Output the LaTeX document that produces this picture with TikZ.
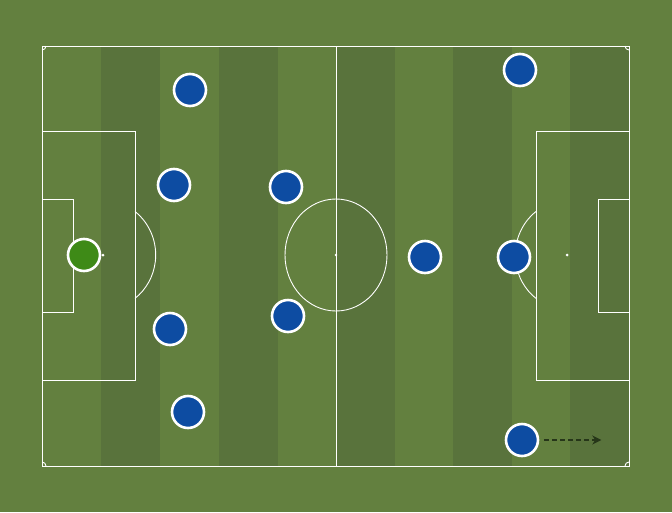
\documentclass[tikz,border=0pt]{standalone}
\usepackage{tikz}
\usetikzlibrary{positioning,shadows,arrows.meta}

\definecolor{grass}{HTML}{63803F}
\definecolor{grassdark}{HTML}{59733C}
\definecolor{teamblue}{HTML}{0D4CA2}
\definecolor{keepergreen}{HTML}{3E8A17}
\definecolor{runline}{HTML}{263619}

\tikzset{
	pitchline/.style={draw=white, line width=0.9pt},
	player/.style={circle, fill=teamblue, draw=white, line width=2.6pt, minimum size=32pt, inner sep=0pt,
		drop shadow={opacity=0.35, shadow xshift=0.6pt, shadow yshift=-1pt}},
	keeper/.style={player, fill=keepergreen},
	run/.style={draw=runline, line width=2.4pt, dash pattern=on 5pt off 3pt, -{Stealth[length=9pt,width=9pt]}},
}

\begin{document}
\begin{tikzpicture}[x=1pt, y=-1pt]
	\useasboundingbox (0,0) rectangle (672,512);
	\fill[grass] (0,0) rectangle (672,512);
	%% stripes
	\foreach \sx in {101,219,336,453,570}
		\fill[grassdark] (\sx,46) rectangle ({\sx+59},466);
	%% pitch
	\draw[pitchline] (42,46) rectangle (629,466);
	\draw[pitchline] (336,46) -- (336,466);
	\draw[pitchline] (336,255) ellipse (51 and 56);
	\fill[white] (336,255) circle (1.3);
	% left end
	\draw[pitchline] (42,131) rectangle (135,380);
	\draw[pitchline] (42,199) rectangle (73,312);
	\fill[white] (103,255) circle (1.5);
	\draw[pitchline] (135,211.5) arc[start angle=-52.6, end angle=52.6, x radius=52.7, y radius=54.7];
	% right end
	\draw[pitchline] (536,131) rectangle (629,380);
	\draw[pitchline] (598,199) rectangle (629,312);
	\fill[white] (567,255) circle (1.5);
	\draw[pitchline] (536,211.5) arc[start angle=232.6, end angle=127.4, x radius=52.7, y radius=54.7];
	% corners
	\draw[pitchline] (46,46) arc[start angle=0, end angle=90, radius=4];
	\draw[pitchline] (625,46) arc[start angle=180, end angle=90, radius=4];
	\draw[pitchline] (46,466) arc[start angle=0, end angle=-90, radius=4];
	\draw[pitchline] (625,466) arc[start angle=180, end angle=270, radius=4];
	%% players
	\node[keeper] (gk) at (84,255) {};
	\node[player] (lb) at (190,90) {};
	\node[player] (lcb) at (174,185) {};
	\node[player] (rcb) at (170,329) {};
	\node[player] (rb) at (188,412) {};
	\node[player] (lcm) at (286,187) {};
	\node[player] (rcm) at (288,316) {};
	\node[player] (cam) at (425,257) {};
	\node[player] (st) at (514,257) {};
	\node[player] (lw) at (520,70) {};
	\node[player] (rw) at (522,440) {};
	%% run
	\coordinate[right=62pt of rw.east] (rwend);
	\draw[run] ([xshift=5pt]rw.east) -- (rwend);
\end{tikzpicture}
\end{document}
